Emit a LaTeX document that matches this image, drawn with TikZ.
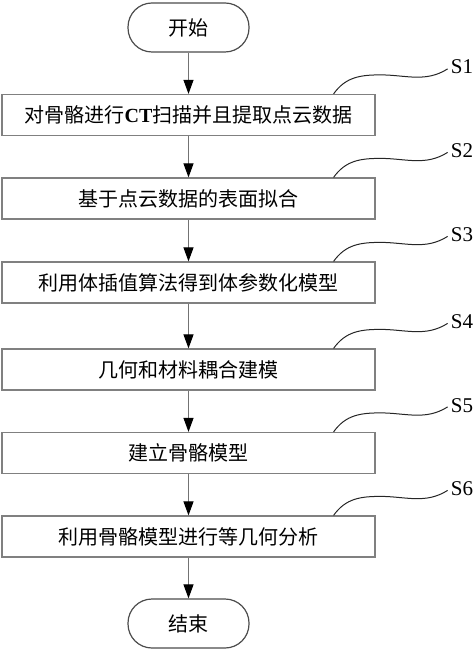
\documentclass[tikz,border=0pt]{standalone}
\usepackage{fontspec}
\setmainfont{Liberation Serif}
\newfontfamily\cjk{Noto Sans CJK SC}
\usetikzlibrary{arrows.meta}
\tikzset{flow/.style = {draw=black!55, line width=0.5pt, -{Triangle[black, length=7pt, width=5pt]}}}
\tikzset{stepbox/.style = {draw=black!50, line width=0.6pt, minimum width=186.5pt, minimum height=20.5pt, inner sep=0, font=\cjk}}
\tikzset{term/.style = {draw=black!70, line width=0.6pt, rounded corners=12pt, minimum width=60.5pt, minimum height=24.5pt, inner sep=0, font=\cjk}}
\tikzset{tag/.style = {inner sep=0, font=\fontsize{10.5}{12}\selectfont}}
\tikzset{wave/.style = {draw=black!85, line width=0.5pt}}

\begin{document}
\begin{tikzpicture}[x=0.5pt, y=-0.5pt]
    \useasboundingbox (0,0) rectangle (474,651);

    \node (start) [term] at (188.5,27.5) {开始};
    \node (s1) [stepbox] at (188.5,115) {对骨骼进行{\rmfamily\bfseries CT}扫描并且提取点云数据};
    \node (s2) [stepbox] at (188.5,198.5) {基于点云数据的表面拟合};
    \node (s3) [stepbox] at (188.5,282.5) {利用体插值算法得到体参数化模型};
    \node (s4) [stepbox] at (188.5,369.5) {几何和材料耦合建模};
    \node (s5) [stepbox] at (188.5,453) {建立骨骼模型};
    \node (s6) [stepbox] at (188.5,536.5) {利用骨骼模型进行等几何分析};
    \node (end) [term] at (188.5,623.5) {结束};

    \draw [flow] (start) -- (s1);
    \draw [flow] (s1) -- (s2);
    \draw [flow] (s2) -- (s3);
    \draw [flow] (s3) -- (s4);
    \draw [flow] (s4) -- (s5);
    \draw [flow] (s5) -- (s6);
    \draw [flow] (s6) -- (end);

    % step labels
    \node (t1) [tag] at (462,67) {S1};
    \node (t2) [tag] at (462,151) {S2};
    \node (t3) [tag] at (462,235) {S3};
    \node (t4) [tag] at (462,322) {S4};
    \node (t5) [tag] at (462,406) {S5};
    \node (t6) [tag] at (462,489) {S6};

    \draw [wave] ([xshift=-21pt]s1.north east) .. controls +(12,-17) and +(-20,0) .. ++(47,-19) .. controls +(25,0) and +(-22,14) .. ++(67,-6);
    \draw [wave] ([xshift=-21pt]s2.north east) .. controls +(12,-17) and +(-20,0) .. ++(47,-19) .. controls +(25,0) and +(-22,14) .. ++(67,-6);
    \draw [wave] ([xshift=-21pt]s3.north east) .. controls +(12,-17) and +(-20,0) .. ++(47,-19) .. controls +(25,0) and +(-22,14) .. ++(67,-6);
    \draw [wave] ([xshift=-21pt]s4.north east) .. controls +(12,-17) and +(-20,0) .. ++(47,-19) .. controls +(25,0) and +(-22,14) .. ++(67,-6);
    \draw [wave] ([xshift=-21pt]s5.north east) .. controls +(12,-17) and +(-20,0) .. ++(47,-19) .. controls +(25,0) and +(-22,14) .. ++(67,-6);
    \draw [wave] ([xshift=-21pt]s6.north east) .. controls +(12,-17) and +(-20,0) .. ++(47,-19) .. controls +(25,0) and +(-22,14) .. ++(67,-6);
\end{tikzpicture}
\end{document}
